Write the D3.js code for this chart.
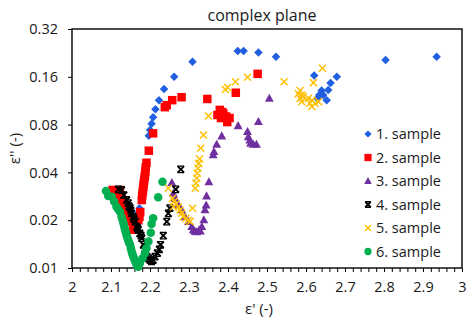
<!DOCTYPE html>
<html>
<head>
<meta charset="utf-8">
<script src="https://cdn.jsdelivr.net/npm/d3@7"></script>
<style>
  html, body { margin: 0; padding: 0; background: #fff; }
  svg { display: block; font-family: "Open Sans", Lato, sans-serif; }
</style>
</head>
<body>
<svg id="chart" width="474" height="322"></svg>
<script>
// ε' (real part) and ε'' (imaginary part) for each sample
const sample1 = [
  [2.425,0.233],[2.440,0.233],[2.478,0.228],[2.523,0.214],[2.804,0.204],[2.935,0.214],
  [2.309,0.199],[2.262,0.160],[2.236,0.134],[2.223,0.114],[2.214,0.100],[2.208,0.089],
  [2.204,0.081],[2.200,0.074],[2.197,0.068],[2.173,0.0238],[2.167,0.022],[2.127,0.0297],
  [2.621,0.163],[2.679,0.160],[2.663,0.146],[2.657,0.132],[2.640,0.131],[2.634,0.123],
  [2.644,0.123],[2.653,0.114],[2.629,0.117]
];
const sample2 = [
  [2.476,0.167],[2.420,0.127],[2.347,0.116],[2.281,0.119],[2.257,0.114],[2.238,0.103],
  [2.243,0.106],[2.208,0.0705],[2.197,0.0548],[2.191,0.046],[2.189,0.043],[2.188,0.0404],
  [2.187,0.0385],[2.186,0.037],[2.185,0.0355],[2.184,0.034],[2.183,0.0325],[2.182,0.031],
  [2.181,0.0298],[2.180,0.0285],[2.179,0.0268],[2.173,0.021],[2.170,0.020],[2.175,0.0225],
  [2.379,0.099],[2.388,0.094],[2.373,0.092],[2.382,0.088],[2.395,0.090],[2.404,0.088],
  [2.398,0.083],[2.385,0.096],
  [2.104,0.031],[2.123,0.031],[2.119,0.0288],[2.128,0.027],[2.132,0.0256],[2.136,0.0232],
  [2.140,0.021],[2.146,0.0205],[2.153,0.0196],[2.162,0.0182],[2.157,0.0174]
];
const sample3 = [
  [2.506,0.117],[2.478,0.0835],[2.426,0.0787],[2.450,0.0722],[2.452,0.067],[2.456,0.064],
  [2.458,0.061],[2.465,0.060],[2.473,0.060],[2.384,0.0678],[2.371,0.060],[2.364,0.054],
  [2.362,0.0515],[2.351,0.0349],[2.345,0.0284],[2.344,0.0249],[2.341,0.0232],[2.338,0.0201],
  [2.333,0.0182],[2.326,0.0174],[2.320,0.0169],[2.311,0.0174],[2.307,0.0182],[2.299,0.0196],
  [2.290,0.021],[2.281,0.0232],[2.273,0.0249],[2.264,0.0275],[2.260,0.0295],[2.256,0.0345],
  [2.315,0.0170],[2.329,0.0171]
];
const sample4 = [
  [2.279,0.0418],[2.266,0.0313],[2.251,0.0238],[2.247,0.0221],[2.243,0.0196],[2.234,0.016],
  [2.227,0.0140],[2.224,0.0131],[2.219,0.0124],[2.213,0.0118],[2.208,0.0112],[2.204,0.0110],
  [2.200,0.0112],[2.196,0.0115],[2.192,0.0118],[2.187,0.0133],[2.183,0.0140],[2.179,0.0154],
  [2.174,0.0165],[2.170,0.0174],[2.166,0.0182],[2.162,0.0196],[2.157,0.021],[2.153,0.0221],
  [2.149,0.0238],[2.144,0.0256],[2.140,0.0268],[2.133,0.0288],[2.127,0.031],[2.119,0.0313],
  [2.146,0.0245],[2.151,0.0230],[2.159,0.0203],[2.168,0.0178],[2.177,0.0160]
];
const sample5 = [
  [2.642,0.181],[2.544,0.149],[2.450,0.159],[2.419,0.149],[2.399,0.137],[2.393,0.133],
  [2.619,0.147],[2.585,0.131],[2.580,0.125],[2.589,0.123],[2.585,0.117],[2.593,0.120],
  [2.589,0.1115],[2.606,0.117],[2.615,0.114],[2.623,0.109],[2.615,0.104],[2.632,0.1115],
  [2.610,0.109],[2.350,0.0906],[2.337,0.0688],[2.330,0.0567],[2.327,0.0486],[2.325,0.0456],
  [2.323,0.0425],[2.321,0.0395],[2.320,0.0367],[2.318,0.0342],[2.316,0.0318],[2.309,0.0238],
  [2.247,0.0318],[2.258,0.0275],[2.262,0.0262],[2.267,0.0253],[2.273,0.0243],[2.277,0.0232],
  [2.281,0.0221],[2.285,0.021],[2.292,0.0206],[2.298,0.020],[2.303,0.0196],[2.260,0.0243]
];
const sample6 = [
  [2.232,0.0349],[2.221,0.0279],[2.208,0.0206],[2.204,0.0189],[2.202,0.0167],[2.196,0.0147],
  [2.191,0.0133],[2.187,0.0124],[2.181,0.0115],[2.174,0.0107],[2.170,0.0102],[2.166,0.0104],
  [2.162,0.0110],[2.157,0.0118],[2.153,0.0127],[2.149,0.0140],[2.144,0.0150],[2.140,0.0161],
  [2.136,0.0174],[2.132,0.0191],[2.127,0.021],[2.123,0.0226],[2.114,0.0243],[2.108,0.0262],
  [2.102,0.0281],[2.093,0.0284],[2.087,0.0305],[2.118,0.0235],[2.130,0.0200],[2.134,0.0182],
  [2.138,0.0168],[2.142,0.0155],[2.146,0.0145],[2.151,0.0133],[2.155,0.0122],[2.160,0.0114]
];

const seriesNames = ["1. sample","2. sample","3. sample","4. sample","5. sample","6. sample"];
const seriesColors = ["#1f5fe0","#ff0000","#7030a0","#000000","#ffc000","#00b050"];
const seriesShapes = ["diamond","square","triangle","star","cross","circle"];
const seriesData = [sample1, sample2, sample3, sample4, sample5, sample6];

const xTicks = [2,2.1,2.2,2.3,2.4,2.5,2.6,2.7,2.8,2.9,3];
const yTicks = [0.01,0.02,0.04,0.08,0.16,0.32];

const margin = {left: 72, right: 12, top: 29, bottom: 54};
const W = 474, H = 322;

const svg = d3.select("#chart");

const x = d3.scaleLinear().domain([2, 3]).range([margin.left, W - margin.right]);
const y = d3.scaleLog().base(2).domain([0.01, 0.32]).range([H - margin.bottom, margin.top]);

// plot frame
svg.append("rect")
  .attr("x", x(2)).attr("y", y(0.32))
  .attr("width", x(3) - x(2)).attr("height", y(0.01) - y(0.32))
  .attr("fill", "none").attr("stroke", "#000").attr("stroke-width", 1.4);

// x axis with minor ticks every 0.02
const xAxis = svg.append("g").attr("transform", `translate(0,${y(0.01)})`);
xAxis.call(d3.axisBottom(x).tickValues(d3.range(0, 51).map(i => 2 + i * 0.02))
  .tickSize(4).tickFormat(""));
xAxis.call(g => g.select(".domain").remove());
xAxis.selectAll(".tick line").attr("stroke", "#000").attr("stroke-width", 1);
const xLabels = svg.append("g").attr("transform", `translate(0,${y(0.01)})`);
xLabels.call(d3.axisBottom(x).tickValues(xTicks).tickSize(0).tickPadding(14)
  .tickFormat(d => d3.format("")(+d.toFixed(1))));
xLabels.call(g => g.select(".domain").remove());
xLabels.selectAll("text").attr("font-size", 14.5).attr("fill", "#1a1a1a")
  .attr("font-family", "'Open Sans', sans-serif");

// y axis (log base 2)
const yAxis = svg.append("g").attr("transform", `translate(${x(2)},0)`);
yAxis.call(d3.axisLeft(y).tickValues(yTicks).tickSize(4).tickPadding(10)
  .tickFormat(d3.format(".2f")));
yAxis.call(g => g.select(".domain").remove());
yAxis.selectAll(".tick line").attr("stroke", "#000");
yAxis.selectAll("text").attr("font-size", 14.5).attr("fill", "#1a1a1a")
  .attr("font-family", "'Open Sans', sans-serif");

// titles
svg.append("text").attr("x", 262).attr("y", 21).attr("text-anchor", "middle")
  .attr("font-size", 16).attr("fill", "#1a1a1a").text("complex plane");
svg.append("text").attr("x", 259).attr("y", 314).attr("text-anchor", "middle")
  .attr("font-size", 15).attr("fill", "#1a1a1a").text("ε' (-)");
svg.append("text").attr("transform", `translate(20,${(y(0.01) + y(0.32)) / 2}) rotate(-90)`)
  .attr("text-anchor", "middle").attr("font-size", 15).attr("fill", "#1a1a1a").text("ε'' (-)");

// marker path generators
function markerPath(shape, s) {
  const h = s / 2;
  switch (shape) {
    case "diamond": return `M0,${-h}L${h},0L0,${h}L${-h},0Z`;
    case "square": return `M${-h},${-h}H${h}V${h}H${-h}Z`;
    case "triangle": return `M0,${-h * 1.1}L${h * 1.05},${h * 0.8}L${-h * 1.05},${h * 0.8}Z`;
    case "circle": return d3.symbol(d3.symbolCircle, Math.PI * h * h)();
    case "cross":
    case "star": return `M${-h},${-h}L${h},${h}M${-h},${h}L${h},${-h}`;
  }
}
function drawMarker(g, shape, color, size) {
  const p = g.append("path").attr("d", markerPath(shape, size));
  if (shape === "cross") {
    p.attr("fill", "none").attr("stroke", color).attr("stroke-width", 1.5);
  } else if (shape === "star") {
    p.attr("fill", "none").attr("stroke", color).attr("stroke-width", 1.9);
    g.append("path").attr("d", `M${-size / 2},${-size / 2}H${size / 2}M${-size / 2},${size / 2}H${size / 2}`)
      .attr("stroke", color).attr("stroke-width", 1.3);
  } else {
    p.attr("fill", color);
  }
}
const sizes = {diamond: 8.5, square: 8.5, triangle: 8.5, star: 6.5, cross: 7, circle: 8.5};

// scatter series
seriesData.forEach((data, i) => {
  const g = svg.append("g").attr("class", "series-" + (i + 1));
  data.forEach(d => {
    const m = g.append("g").attr("transform", `translate(${x(d[0])},${y(d[1])})`);
    drawMarker(m, seriesShapes[i], seriesColors[i], sizes[seriesShapes[i]]);
  });
});

// legend
const legend = svg.append("g").attr("transform", "translate(368,134)");
seriesNames.forEach((name, i) => {
  const row = legend.append("g").attr("transform", `translate(0,${i * 23.5})`);
  drawMarker(row, seriesShapes[i], seriesColors[i], sizes[seriesShapes[i]] * 0.85);
  row.append("text").attr("x", 8).attr("y", 5).attr("font-size", 14.5)
    .attr("fill", "#1a1a1a").text(name);
});
</script>
</body>
</html>
